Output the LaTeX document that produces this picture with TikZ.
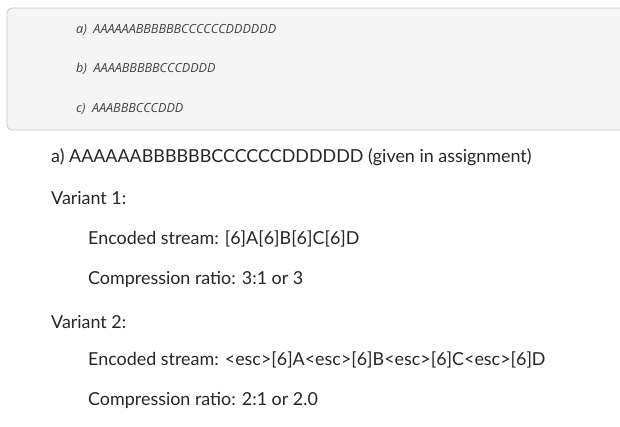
\documentclass[tikz,border=0pt]{standalone}
\usepackage{fontspec}
\setmainfont{Lato}
\newfontfamily\osans{Open Sans}
\begin{document}
\begin{tikzpicture}[x=1pt,y=-1pt,
  box/.style={draw=black!22,fill=black!4,rounded corners=5pt,line width=0.8pt},
  q/.style={anchor=west,inner sep=0pt,font=\osans\fontsize{12.6}{14}\selectfont\itshape,text=black!75},
  t/.style={anchor=west,inner sep=0pt,font=\fontsize{17.9}{21}\selectfont,text=black!85}]
\useasboundingbox (0,0) rectangle (620,427);
\draw[box] (7,8) rectangle (640,130);
\node[q] (qa) at (76,30) {a)~ AAAAAABBBBBBCCCCCCDDDDDD};
\node[q] (qb) at (76,69) {b)~ AAAABBBBBCCCDDDD};
\node[q] (qc) at (76,109) {c)~ AAABBBCCCDDD};
\node[t] (a) at (51,157) {a) AAAAAABBBBBBCCCCCCDDDDDD (given in assignment)};
\node[t] (v1) at (51,198) {Variant 1:};
\node[t] (e1) at (88,239) {Encoded stream: [6]A[6]B[6]C[6]D};
\node[t] (c1) at (88,279) {Compression ratio: 3:1 or 3};
\node[t] (v2) at (51,322) {Variant 2:};
\node[t] (e2) at (88,360) {Encoded stream: <esc>[6]A<esc>[6]B<esc>[6]C<esc>[6]D};
\node[t] (c2) at (88,400) {Compression ratio: 2:1 or 2.0};
\end{tikzpicture}
\end{document}
